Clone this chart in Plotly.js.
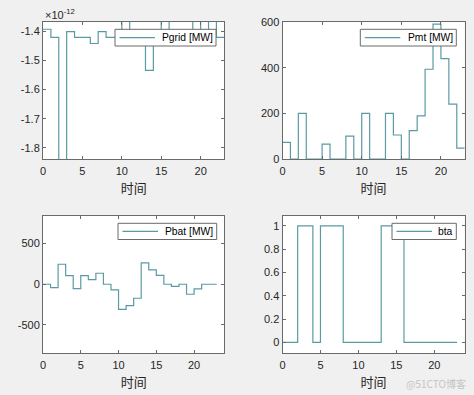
<!DOCTYPE html>
<html>
<head>
<meta charset="utf-8">
<script src="https://cdn.plot.ly/plotly-3.0.1.min.js"></script>
<style>html,body{margin:0;padding:0;background:#f0f0f0;}#chart{width:474px;height:395px;}</style>
</head>
<body>
<div id="chart"></div>
<script>
// time steps (hours)
const hours = [0,1,2,3,4,5,6,7,8,9,10,11,12,13,14,15,16,17,18,19,20,21,22,23];
// Pgrid in units of 1e-12 MW
const pgrid = [-1.392,-1.42,-2.27,-1.40,-1.42,-1.42,-1.441,-1.40,-1.42,-1.42,-1.35,-1.42,-1.42,-1.534,-1.42,-1.35,-1.42,-1.42,-1.42,-1.35,-1.42,-1.35,-1.42,-1.42];
// Pmt [MW]
const pmt = [73,0,200,0,0,65,0,0,100,0,200,0,0,200,105,0,124,189,393,591,440,240,48,48];
// Pbat [MW]
const pbat = [0,-41,246,106,-54,106,57,135,0,-70,-308,-263,-172,262,176,110,0,-25,0,-123,-58,0,0,0];
// bta (binary)
const bta = [0,0,1,1,0,1,1,1,0,0,0,0,0,1,1,1,0,0,0,0,0,0,0,0];

const names = ['Pgrid [MW]','Pmt [MW]','Pbat [MW]','bta'];
const xTicks = [0,5,10,15,20];
const y1Ticks = [-1.8,-1.7,-1.6,-1.5,-1.4];
const y1Text = ['-1.8','-1.7','-1.6','-1.5','-1.4'];
const y2Ticks = [0,200,400,600];
const y3Ticks = [-500,0,500];
const y3Text = ['-500','0','500'];
const y4Ticks = [0,0.2,0.4,0.6,0.8,1];
const xLabel = '时间';

const W = 474, H = 395;
const px = v => v / W;
const py = v => 1 - v / H;

const lineColor = '#5b9aa3';
const axColor = '#6a6a6a';
const txtColor = '#262626';
const fontFam = '"Liberation Sans", Arial, sans-serif';

const series = [pgrid, pmt, pbat, bta];
const traces = series.map((ys, i) => ({
  x: hours, y: ys, type: 'scatter', mode: 'lines',
  line: {shape: 'hv', color: lineColor, width: 1.2},
  name: names[i],
  xaxis: i === 0 ? 'x' : 'x' + (i + 1),
  yaxis: i === 0 ? 'y' : 'y' + (i + 1),
  showlegend: false
}));

function xax(domain, range, anchor) {
  return {
    domain: domain, range: range, anchor: anchor,
    tickvals: xTicks, ticks: 'inside', ticklen: 3, tickcolor: axColor,
    showline: true, linecolor: axColor, linewidth: 1, mirror: 'ticks',
    showgrid: false, zeroline: false, ticklabelstandoff: 2,
    tickfont: {family: fontFam, size: 11, color: txtColor},
    title: {text: xLabel, font: {family: '"Noto Sans CJK SC", sans-serif', size: 13, color: txtColor}, standoff: 7}
  };
}
function yax(domain, range, anchor, tv, tt) {
  const a = {
    domain: domain, range: range, anchor: anchor,
    tickvals: tv, ticks: 'inside', ticklen: 3, tickcolor: axColor,
    showline: true, linecolor: axColor, linewidth: 1, mirror: 'ticks',
    showgrid: false, zeroline: false,
    tickfont: {family: fontFam, size: 11, color: txtColor}
  };
  if (tt) a.ticktext = tt;
  return a;
}

const xd1 = [px(43), px(224.3)], xd2 = [px(282.5), px(464.7)];
const ydTop = [py(159), py(22)], ydBot = [py(353), py(215.5)];

// legend boxes in pixels: [left, right, top, bottom]
const legBoxes = [[115, 216, 29.3, 46], [360.3, 456.3, 29.3, 46], [118, 216.7, 223.3, 239.5], [392, 456.3, 223.3, 239.5]];
const shapes = [];
const annotations = [];
legBoxes.forEach((b, i) => {
  const [l, r, t, bt] = b;
  const mid = (t + bt) / 2;
  shapes.push({type: 'rect', xref: 'paper', yref: 'paper', x0: px(l), x1: px(r), y0: py(bt), y1: py(t),
    fillcolor: '#ffffff', line: {color: axColor, width: 1}, layer: 'above'});
  shapes.push({type: 'line', xref: 'paper', yref: 'paper', x0: px(l + 4.5), x1: px(l + 40), y0: py(mid), y1: py(mid),
    line: {color: lineColor, width: 1.2}, layer: 'above'});
  annotations.push({xref: 'paper', yref: 'paper', x: px(r - 2.5), y: py(mid), xanchor: 'right', yanchor: 'middle',
    text: names[i], showarrow: false, borderpad: 0, font: {family: fontFam, size: 10.3, color: '#000'}});
});
annotations.push({xref: 'paper', yref: 'paper', x: px(43), y: py(14), xanchor: 'left', yanchor: 'middle',
  text: '×10<sup>-12</sup>', showarrow: false, font: {family: fontFam, size: 11, color: txtColor}});
annotations.push({xref: 'paper', yref: 'paper', x: px(468), y: py(383), xanchor: 'right', yanchor: 'middle',
  text: '@51CTO博客', showarrow: false, font: {family: '"Noto Sans CJK SC", sans-serif', size: 10, color: '#c4c4c4'}});

const layout = {
  width: W, height: H,
  margin: {l: 0, r: 0, t: 0, b: 0},
  paper_bgcolor: '#f0f0f0', plot_bgcolor: '#ffffff',
  showlegend: false,
  xaxis: xax(xd1, [0, 23], 'y'),
  yaxis: yax(ydTop, [-1.839, -1.367], 'x', y1Ticks, y1Text),
  xaxis2: xax(xd2, [0, 23], 'y2'),
  yaxis2: yax(ydTop, [0, 600], 'x2', y2Ticks),
  xaxis3: xax(xd1, [0, 24], 'y3'),
  yaxis3: yax(ydBot, [-845, 845], 'x3', y3Ticks, y3Text),
  xaxis4: xax(xd2, [0, 24], 'y4'),
  yaxis4: yax(ydBot, [-0.092, 1.09], 'x4', y4Ticks),
  shapes: shapes,
  annotations: annotations
};

Plotly.newPlot('chart', traces, layout, {staticPlot: true, displayModeBar: false});
</script>
</body>
</html>
